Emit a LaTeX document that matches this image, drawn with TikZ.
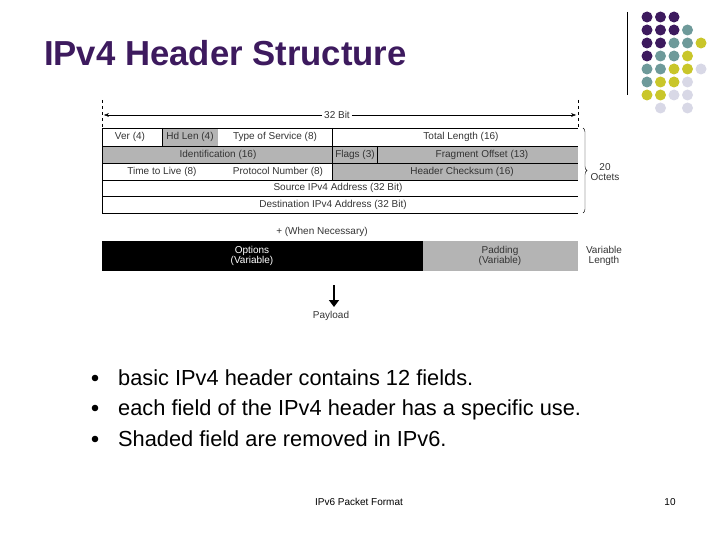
\documentclass[tikz,border=0pt]{standalone}
\usepackage{fontspec}
\setmainfont{Liberation Sans}
\usetikzlibrary{decorations.pathreplacing,arrows.meta}
\definecolor{pp}{HTML}{3D1A5E}
\definecolor{tl}{HTML}{6E9A9A}
\definecolor{yl}{HTML}{C9C62A}
\definecolor{lg}{HTML}{D8D8E6}
\definecolor{sh}{HTML}{B4B4B4}
\definecolor{tx}{HTML}{333333}
\tikzset{
 cell/.style={font=\fontsize{10}{10.5}\selectfont,text=tx,anchor=center,inner sep=0},
 bul/.style={font=\fontsize{21.8}{24}\selectfont,anchor=base west,inner sep=0},
 dot/.style={circle,inner sep=0,minimum size=11pt},
}
\begin{document}
\begin{tikzpicture}[x=1pt,y=-1pt]
\useasboundingbox (0,0) rectangle (720,540);
% decoration
\draw[line width=0.8pt] (627,12) -- (627,95);
\foreach \c/\r/\col in {0/0/pp,1/0/pp,2/0/pp,
 0/1/pp,1/1/pp,2/1/pp,3/1/tl,
 0/2/pp,1/2/pp,2/2/tl,3/2/tl,4/2/yl,
 0/3/pp,1/3/tl,2/3/tl,3/3/yl,
 0/4/tl,1/4/tl,2/4/yl,3/4/yl,4/4/lg,
 0/5/tl,1/5/yl,2/5/yl,3/5/lg,
 0/6/yl,1/6/yl,2/6/lg,3/6/lg,
 1/7/lg,3/7/lg}
 \node[dot,fill=\col] (d\c\r) at ({647+13.5*\c},{17+13*\r}) {};
\node[font=\bfseries\fontsize{34.7}{38}\selectfont,text=pp,anchor=west,inner sep=0] (title) at (44,53) {IPv4 Header Structure};
% shading
\fill[sh] (162,128) rectangle (218,146);
\fill[sh] (102,146) rectangle (578,163);
\fill[sh] (332,163) rectangle (578,180);
% table lines
\draw[line width=0.6pt] (102,128) -- (578,128);
\foreach \y in {146,163,180,196,213} \draw[line width=0.6pt] (102,\y) -- (578,\y);
\draw[line width=0.6pt] (102,128) -- (102,213);
\draw[line width=0.6pt] (162,128) -- (162,146);
\draw[line width=0.6pt] (332,128) -- (332,180);
\draw[line width=0.6pt] (377,146) -- (377,163);
\draw[dashed] (102,100) -- (102,128);
\draw[dashed] (578,100) -- (578,128);
\node[cell,fill=white,inner sep=2pt] (bit) at (337,115) {32 Bit};
\coordinate (la) at (104,115); \coordinate (ra) at (576,115);
\draw[-{Stealth[length=5pt]}] (bit) -- (la);
\draw[-{Stealth[length=5pt]}] (bit) -- (ra);
\node[cell] (c1) at (130,137) {Ver (4)};
\node[cell] (c2) at (190,137) {Hd Len (4)};
\node[cell] (c3) at (275,137) {Type of Service (8)};
\node[cell] (c4) at (461,137) {Total Length (16)};
\node[cell] (c5) at (218,154.5) {Identification (16)};
\node[cell] (c6) at (355,154.5) {Flags (3)};
\node[cell] (c7) at (482,154.5) {Fragment Offset (13)};
\node[cell] (c8) at (162,171.5) {Time to Live (8)};
\node[cell] (c9) at (278,171.5) {Protocol Number (8)};
\node[cell] (c10) at (462,171.5) {Header Checksum (16)};
\node[cell] (c11) at (338,188) {Source IPv4 Address (32 Bit)};
\node[cell] (c12) at (333,204.5) {Destination IPv4 Address (32 Bit)};
\draw[decorate,decoration={brace,amplitude=4pt}] (583,128) -- (583,213);
\node[cell,align=center] (oct) at (605,172) {20\\Octets};
\node[cell] (wn) at (322,232) {+ (When Necessary)};
\fill[black] (102,241) rectangle (423,271);
\fill[sh] (423,241) rectangle (578,271);
\node[cell,text=white,align=center] (opt) at (252,256) {Options\\(Variable)};
\node[cell,align=center] (pad) at (500,256) {Padding\\(Variable)};
\node[cell,align=center] (vl) at (604,256) {Variable\\Length};
\node[cell] (pay) at (331,316) {Payload};
\coordinate (at) at (334,285);
\draw[line width=2pt,-{Triangle[length=7pt,width=10pt]}] (at) -- (334,307);
% bullets
\foreach \y/\t [count=\i] in {378/{basic IPv4 header contains 12 fields.},408/{each field of the IPv4 header has a specific use.},439/{Shaded field are removed in IPv6.}}{
 \fill (95,\y) circle (3.3pt);
 \node[bul] (b\i) at (118,\y+7.5) {\t};
}
\node[font=\fontsize{10}{11}\selectfont,inner sep=0] (ft) at (359,502) {IPv6 Packet Format};
\node[font=\fontsize{10}{11}\selectfont,inner sep=0] (pg) at (670,502) {10};
\end{tikzpicture}
\end{document}
